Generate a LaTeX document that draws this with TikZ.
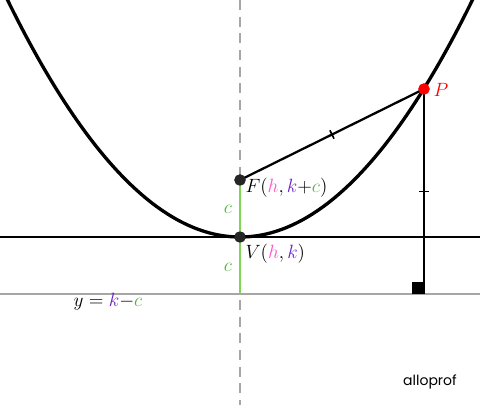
\documentclass[tikz,border=0pt]{standalone}
\usepackage{fontspec}
\newfontfamily\logofont{Poppins}
\usetikzlibrary{decorations.markings}
\definecolor{hpink}{HTML}{FF55CC}
\definecolor{kpurple}{HTML}{6A1FCF}
\definecolor{cgreen}{HTML}{4FB43A}
\definecolor{lgreen}{HTML}{7ED457}
\definecolor{axgray}{HTML}{A6A6A6}
\newcommand{\hh}{\textcolor{hpink}{h}}
\newcommand{\kk}{\textcolor{kpurple}{k}}
\newcommand{\cc}{\textcolor{cgreen}{c}}
\tikzset{
  dot/.style={circle, fill=black!85, inner sep=0pt, minimum size=8.5pt},
  reddot/.style={circle, fill=red, inner sep=0pt, minimum size=8.5pt},
  lbl/.style={font=\fontsize{14}{17}\selectfont, inner sep=1pt},
  seg/.style={line width=1.7pt, black},
  tickmid/.style={postaction={decorate, decoration={markings, mark=at position 0.5 with {\draw[line width=1.2pt] (0,-3.5pt) -- (0,3.5pt);}}}}
}
\begin{document}
\begin{tikzpicture}[x=0.75pt, y=-0.75pt]
\useasboundingbox (0,0) rectangle (480,405);
\begin{scope}
\clip (0,0) rectangle (480,405);
% axis of symmetry
\draw[axgray, line width=1.6pt, dash pattern=on 7.5pt off 5pt] (240,0) -- (240,405);
% directrix
\draw[axgray, line width=1.6pt] (0,294) -- (480,294);
% tangent line through vertex
\draw[black, line width=1pt] (0,237) -- (480,237);
% green segment
\coordinate (D) at (240,294);
\coordinate (Q) at (424,294);
\node[dot] (F) at (240,180) {};
\node[dot] (V) at (240,237) {};
\draw[lgreen, line width=1.7pt] (F.center) -- (D);
% parabola
\draw[black, line width=2.5pt] plot[domain=2:478, samples=160] (\x, {237 - ((\x-240)/228)*(\x-240)});
\node[reddot] (P) at (424,89) {};
% right angle square
\fill[black] (412,282) rectangle (Q);
% segments
\draw[seg, tickmid] (F.center) -- (P.center);
\draw[seg, tickmid] (P.center) -- (Q);
\node[dot] at (F) {};
\node[dot] at (V) {};
\node[reddot] at (P) {};
\end{scope}
% labels
\node[lbl, anchor=west] (Fl) at (244,188) {$F(\hh,\kk{+}\cc)$};
\node[lbl, anchor=west] (Vl) at (244,254) {$V(\hh,\kk)$};
\node[lbl, text=red] (Pl) at (441,90) {$P$};
\node[lbl] (c1) at (228,209) {$\cc$};
\node[lbl] (c2) at (228,267) {$\cc$};
\node[lbl] (dl) at (108,302) {$y=\kk{-}\cc$};
\node[font=\logofont\fontsize{10.5}{12}\selectfont] (logo) at (430,382) {alloprof};
\end{tikzpicture}
\end{document}
